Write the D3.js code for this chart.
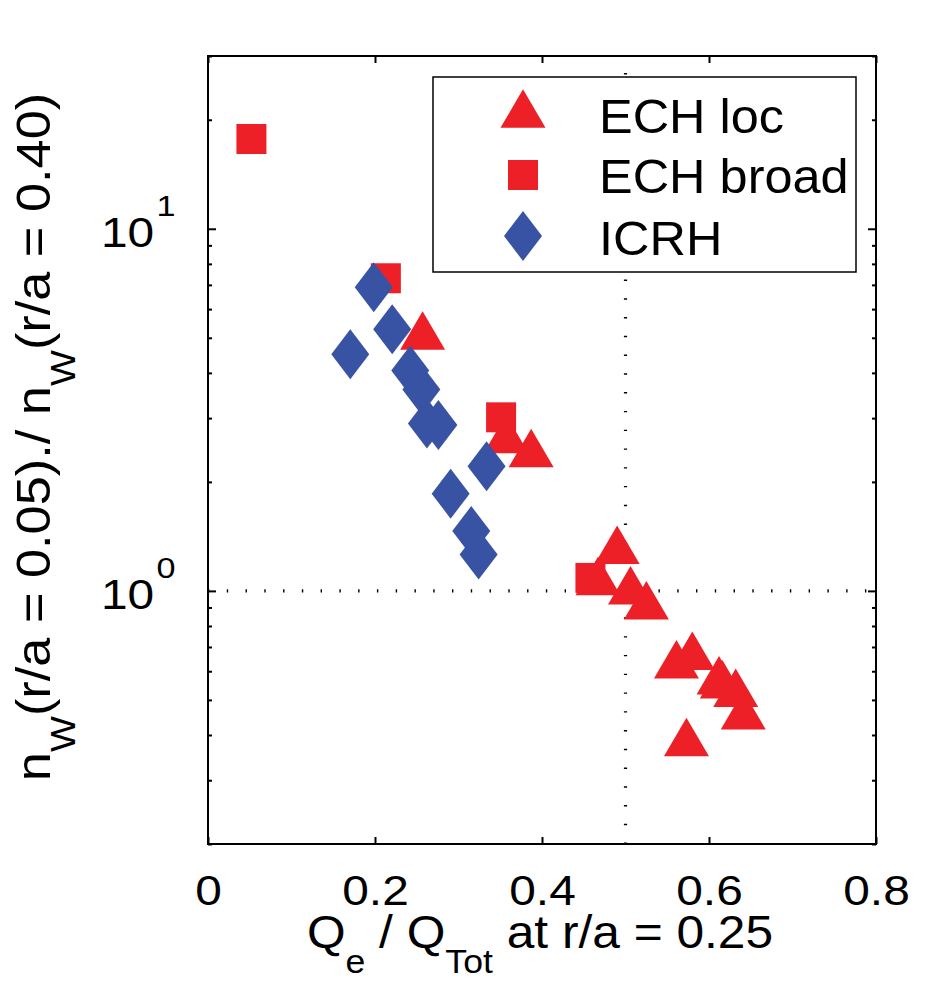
<!DOCTYPE html>
<html><head><meta charset="utf-8">
<script src="https://cdn.jsdelivr.net/npm/d3@7"></script>
<style>
body{margin:0;background:#fff}
svg{display:block}
text{font-family:"Liberation Sans",Arial,Helvetica,sans-serif;fill:#000}
</style>
</head><body><svg id="c" width="931" height="984"></svg>
<script>
// ---- data ----
const xTicks = [0, 0.2, 0.4, 0.6, 0.8];
const xTickLabels = ["0", "0.2", "0.4", "0.6", "0.8"];
const yMajor = [1, 10];
const yMajorExp = ["0", "1"];
const yMinor = [0.2,0.3,0.4,0.5,0.6,0.7,0.8,0.9,2,3,4,5,6,7,8,9,20,30];
const seriesNames = ["ECH loc", "ECH broad", "ICRH"];

const echLocX = [0.257, 0.357, 0.387, 0.467, 0.490, 0.506, 0.525, 0.561, 0.580, 0.612, 0.616, 0.632, 0.641, 0.573];
const echLocY = [5.24, 2.71, 2.48, 1.10, 1.34, 1.036, 0.942, 0.647, 0.683, 0.585, 0.570, 0.540, 0.468, 0.395];

const echBroadX = [0.052, 0.213, 0.351, 0.458];
const echBroadY = [17.7, 7.30, 3.015, 1.086];

const icrhX = [0.1985, 0.2206, 0.1704, 0.2422, 0.2555, 0.2622, 0.2759, 0.3336, 0.2906, 0.3153, 0.3241];
const icrhY = [6.89, 5.28, 4.50, 4.06, 3.60, 2.90, 2.87, 2.21, 1.856, 1.463, 1.261];

const refX = 0.5, refY = 1;

// ---- layout ----
const L = 208, R = 876, T = 56, B = 844;
const RED = "#ed1f27", BLUE = "#3953a4";

const svg = d3.select("#c");
svg.append("rect").attr("width",931).attr("height",984).attr("fill","#fff");

const x = d3.scaleLinear().domain([0, 0.8]).range([L, R]);
const y = d3.scaleLog().domain([0.2, 30]).range([B, T]);

const shapes = {
  tri: (() => { const w = 45, h = 38.5; return `M0,${-h/2}L${w/2},${h/2}L${-w/2},${h/2}Z`; })(),
  sq: "M-15,-15h30v30h-30Z",
  dia: "M0,-25L19,0L0,25L-19,0Z"
};

// dotted reference lines
svg.append("line")
  .attr("x1", x(refX)).attr("x2", x(refX)).attr("y1", y(0.2)).attr("y2", y(30))
  .attr("stroke","#000").attr("stroke-width",3.2).attr("stroke-dasharray","1.4,17.37");
svg.append("line")
  .attr("x1", x(0)).attr("x2", x(0.8)).attr("y1", y(refY)).attr("y2", y(refY))
  .attr("stroke","#000").attr("stroke-width",3.2).attr("stroke-dasharray","1.4,17.37");

// markers
function drawSeries(xs, ys, shape, color) {
  svg.append("g").selectAll("path").data(xs.map((v,i)=>[v, ys[i]])).join("path")
    .attr("d", shapes[shape])
    .attr("transform", d => `translate(${x(d[0])},${y(d[1])})`)
    .attr("fill", color);
}
drawSeries(echLocX, echLocY, "tri", RED);
drawSeries(echBroadX, echBroadY, "sq", RED);
drawSeries(icrhX, icrhY, "dia", BLUE);

// axes
function styleAxis(g) {
  g.select(".domain").remove();
  g.selectAll(".tick line").attr("stroke","#000").attr("stroke-width",2);
}
const gxB = svg.append("g").attr("transform",`translate(0,${B})`)
  .call(d3.axisBottom(x).tickValues(xTicks).tickSize(-7).tickFormat((d,i)=>xTickLabels[i]));
styleAxis(gxB);
gxB.selectAll("text").attr("y", 61).attr("dy", 0)
  .attr("font-size", 42).attr("font-family", '"Liberation Sans",Arial,sans-serif')
  .attr("fill","#000").attr("transform","scale(1.14,1)");

const gxT = svg.append("g").attr("transform",`translate(0,${T})`)
  .call(d3.axisTop(x).tickValues(xTicks).tickSize(-7).tickFormat(""));
styleAxis(gxT);

const gyL = svg.append("g").attr("transform",`translate(${L},0)`)
  .call(d3.axisLeft(y).tickValues(yMajor).tickSize(-8).tickFormat(""));
styleAxis(gyL);
const gyLm = svg.append("g").attr("transform",`translate(${L},0)`)
  .call(d3.axisLeft(y).tickValues(yMinor).tickSize(-4).tickFormat(""));
styleAxis(gyLm);
const gyR = svg.append("g").attr("transform",`translate(${R},0)`)
  .call(d3.axisRight(y).tickValues(yMajor).tickSize(-8).tickFormat(""));
styleAxis(gyR);
const gyRm = svg.append("g").attr("transform",`translate(${R},0)`)
  .call(d3.axisRight(y).tickValues(yMinor).tickSize(-4).tickFormat(""));
styleAxis(gyRm);

// y tick labels 10^n
yMajor.forEach((v,i) => {
  const t = svg.append("text")
    .attr("transform", `translate(101,${y(v)+18}) scale(1.14,1)`)
    .attr("font-size", 42);
  t.append("tspan").text("10");
  t.append("tspan").attr("font-size", 30).attr("dy", -31).attr("dx", 2).text(yMajorExp[i]);
});

// frame
svg.append("rect").attr("x",L).attr("y",T).attr("width",R-L).attr("height",B-T)
  .attr("fill","none").attr("stroke","#000").attr("stroke-width",2);

// x label
const xl = svg.append("text")
  .attr("transform","translate(540,948) scale(1.08,1)")
  .attr("text-anchor","middle").attr("font-size",46);
xl.append("tspan").text("Q");
xl.append("tspan").attr("font-size",33).attr("dy",25).text("e");
xl.append("tspan").attr("dy",-25).text(" / Q");
xl.append("tspan").attr("font-size",33).attr("dy",25).text("Tot");
xl.append("tspan").attr("dy",-25).text(" at r/a = 0.25");

// y label
const yl = svg.append("text")
  .attr("transform","translate(50,437) rotate(-90) scale(1.09,1)")
  .attr("text-anchor","middle").attr("font-size",48);
yl.append("tspan").text("n");
yl.append("tspan").attr("font-size",35).attr("dy",25).text("W");
yl.append("tspan").attr("dy",-25).text("(r/a = 0.05)./ n");
yl.append("tspan").attr("font-size",35).attr("dy",25).text("W");
yl.append("tspan").attr("dy",-25).text("(r/a = 0.40)");

// legend
const lg = svg.append("g");
lg.append("rect").attr("x",433).attr("y",77).attr("width",423).attr("height",195)
  .attr("fill","#fff").attr("stroke","#000").attr("stroke-width",1.5);
const legItems = [
  {name: seriesNames[0], shape:"tri", color:RED, my:108.5, ty:133},
  {name: seriesNames[1], shape:"sq", color:RED, my:175, ty:193},
  {name: seriesNames[2], shape:"dia", color:BLUE, my:236, ty:255}
];
legItems.forEach(d => {
  lg.append("path").attr("d", shapes[d.shape]).attr("fill", d.color)
    .attr("transform", `translate(523,${d.my})`);
  lg.append("text").attr("transform", `translate(599,${d.ty}) scale(1.03,1)`)
    .attr("font-size",49).text(d.name);
});
</script>
</body></html>
